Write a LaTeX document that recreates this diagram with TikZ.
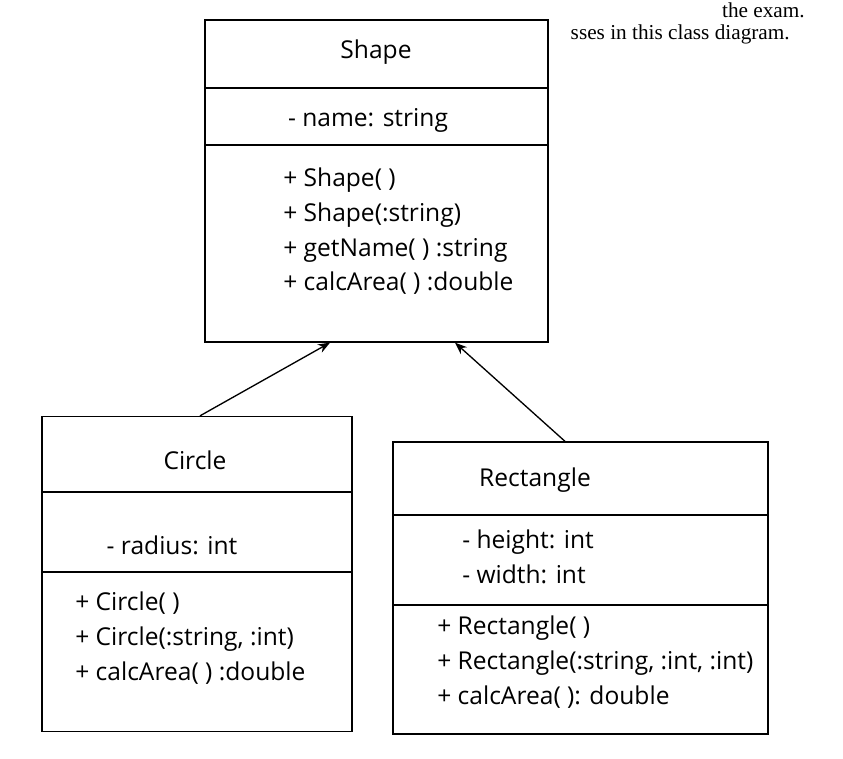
\documentclass[tikz,border=0pt]{standalone}
\usepackage{fontspec}
\setmainfont{Open Sans}
\newfontfamily\serif{Liberation Serif}
\usetikzlibrary{arrows.meta}
\begin{document}
\begin{tikzpicture}[x=0.02646cm,y=-0.02646cm,
  box/.style={draw,line width=1pt,inner sep=0pt},
  txt/.style={font=\fontsize{18.5}{26}\selectfont,align=left,inner sep=0pt},
  conn/.style={line width=1pt,-{Stealth[length=9pt,width=7pt]}}]
\useasboundingbox[fill=white] (0,0) rectangle (843,758);
% Shape
\node[box,minimum width=343*0.02646cm,minimum height=322*0.02646cm] (shape) at (376.5,181) {};
\draw[line width=1pt] (205,88) -- (548,88) (205,145) -- (548,145);
\node[txt] (sn) at (376,52) {Shape};
\node[txt] (sa) at (368,120) {- name: string};
\node[txt,anchor=north west] (sm) at (283,168) {+ Shape( )\\+ Shape(:string)\\+ getName( ) :string\\+ calcArea( ) :double};
% Circle
\node[box,minimum width=310*0.02646cm,minimum height=315*0.02646cm] (circle) at (197,574) {};
\draw[line width=1pt] (42,492) -- (352,492) (42,572) -- (352,572);
\node[txt] (cn) at (195,460) {Circle};
\node[txt] (ca) at (172,545) {- radius: int};
\node[txt,anchor=north west] (cm) at (75,592) {+ Circle( )\\+ Circle(:string, :int)\\+ calcArea( ) :double};
% Rectangle
\node[box,minimum width=375*0.02646cm,minimum height=292*0.02646cm] (rect) at (580.5,588) {};
\draw[line width=1pt] (393,515) -- (768,515) (393,605) -- (768,605);
\node[txt] (rn) at (535,480) {Rectangle};
\node[txt,anchor=north west] (ra) at (462,530) {- height: int\\- width: int};
\node[txt,anchor=north west] (rm) at (437,616) {+ Rectangle( )\\+ Rectangle(:string, :int, :int)\\+ calcArea( ): double};
% arrows
\draw[conn] (circle.north -| 200,0) -- (shape.south -| 330,0);
\draw[conn] (rect.north -| 565,0) -- (shape.south -| 455,0);
% page text
\node[font=\serif\fontsize{16}{18}\selectfont,anchor=north east,inner sep=0pt] (t1) at (805,2) {the exam.};
\node[font=\serif\fontsize{16}{18}\selectfont,anchor=north east,inner sep=0pt] (t2) at (790,24) {sses in this class diagram.};
\end{tikzpicture}
\end{document}
